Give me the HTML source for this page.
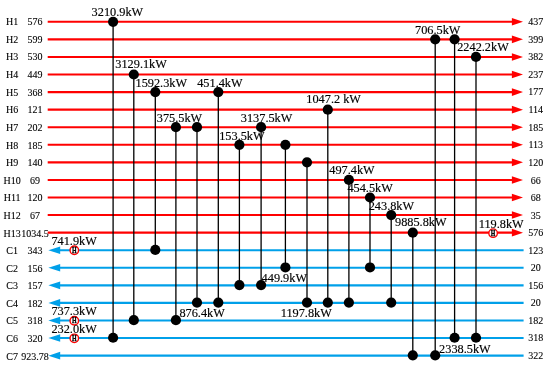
<!DOCTYPE html>
<html><head><meta charset="utf-8"><title>HEN</title>
<style>html,body{margin:0;padding:0;background:#fff}svg text{font-family:"Liberation Serif",serif}</style></head>
<body>
<svg width="550" height="368" viewBox="0 0 550 368" style="display:block">
<rect width="550" height="368" fill="#fff"/>
<g stroke="#ff0000" stroke-width="2.1" fill="#ff0000">
<line x1="47.7" y1="21.80" x2="513" y2="21.80"/>
<polygon stroke="none" points="523,21.80 511.9,18.00 511.9,25.60"/>
<line x1="47.7" y1="39.37" x2="513" y2="39.37"/>
<polygon stroke="none" points="523,39.37 511.9,35.57 511.9,43.17"/>
<line x1="47.7" y1="56.94" x2="513" y2="56.94"/>
<polygon stroke="none" points="523,56.94 511.9,53.14 511.9,60.74"/>
<line x1="47.7" y1="74.51" x2="513" y2="74.51"/>
<polygon stroke="none" points="523,74.51 511.9,70.71 511.9,78.31"/>
<line x1="47.7" y1="92.08" x2="513" y2="92.08"/>
<polygon stroke="none" points="523,92.08 511.9,88.28 511.9,95.88"/>
<line x1="47.7" y1="109.65" x2="513" y2="109.65"/>
<polygon stroke="none" points="523,109.65 511.9,105.85 511.9,113.45"/>
<line x1="47.7" y1="127.22" x2="513" y2="127.22"/>
<polygon stroke="none" points="523,127.22 511.9,123.42 511.9,131.02"/>
<line x1="47.7" y1="144.79" x2="513" y2="144.79"/>
<polygon stroke="none" points="523,144.79 511.9,140.99 511.9,148.59"/>
<line x1="47.7" y1="162.36" x2="513" y2="162.36"/>
<polygon stroke="none" points="523,162.36 511.9,158.56 511.9,166.16"/>
<line x1="47.7" y1="179.93" x2="513" y2="179.93"/>
<polygon stroke="none" points="523,179.93 511.9,176.13 511.9,183.73"/>
<line x1="47.7" y1="197.50" x2="513" y2="197.50"/>
<polygon stroke="none" points="523,197.50 511.9,193.70 511.9,201.30"/>
<line x1="47.7" y1="215.07" x2="513" y2="215.07"/>
<polygon stroke="none" points="523,215.07 511.9,211.27 511.9,218.87"/>
<line x1="47.7" y1="232.64" x2="513" y2="232.64"/>
<polygon stroke="none" points="523,232.64 511.9,228.84 511.9,236.44"/>
</g>
<g stroke="#00a0e9" stroke-width="2.1" fill="#00a0e9">
<line x1="58" y1="250.21" x2="523.6" y2="250.21"/>
<polygon stroke="none" points="48.4,250.21 60.2,246.41 60.2,254.01"/>
<line x1="58" y1="267.78" x2="523.6" y2="267.78"/>
<polygon stroke="none" points="48.4,267.78 60.2,263.98 60.2,271.58"/>
<line x1="58" y1="285.35" x2="523.6" y2="285.35"/>
<polygon stroke="none" points="48.4,285.35 60.2,281.55 60.2,289.15"/>
<line x1="58" y1="302.92" x2="523.6" y2="302.92"/>
<polygon stroke="none" points="48.4,302.92 60.2,299.12 60.2,306.72"/>
<line x1="58" y1="320.49" x2="523.6" y2="320.49"/>
<polygon stroke="none" points="48.4,320.49 60.2,316.69 60.2,324.29"/>
<line x1="58" y1="338.06" x2="523.6" y2="338.06"/>
<polygon stroke="none" points="48.4,338.06 60.2,334.26 60.2,341.86"/>
<line x1="58" y1="355.63" x2="523.6" y2="355.63"/>
<polygon stroke="none" points="48.4,355.63 60.2,351.83 60.2,359.43"/>
</g>
<g stroke="#000" stroke-width="1.3" fill="#000">
<line x1="113.1" y1="21.80" x2="113.1" y2="338.06"/>
<line x1="133.8" y1="74.51" x2="133.8" y2="320.49"/>
<line x1="155.3" y1="92.08" x2="155.3" y2="250.21"/>
<line x1="175.9" y1="127.22" x2="175.9" y2="320.49"/>
<line x1="197" y1="127.22" x2="197" y2="302.92"/>
<line x1="218.3" y1="92.08" x2="218.3" y2="302.92"/>
<line x1="239.4" y1="144.79" x2="239.4" y2="285.35"/>
<line x1="261.1" y1="127.22" x2="261.1" y2="285.35"/>
<line x1="285.4" y1="144.79" x2="285.4" y2="267.78"/>
<line x1="307" y1="162.36" x2="307" y2="302.92"/>
<line x1="327.8" y1="109.65" x2="327.8" y2="302.92"/>
<line x1="348.9" y1="179.93" x2="348.9" y2="302.92"/>
<line x1="370" y1="197.50" x2="370" y2="267.78"/>
<line x1="391.2" y1="215.07" x2="391.2" y2="302.92"/>
<line x1="412.8" y1="232.64" x2="412.8" y2="355.63"/>
<line x1="435.2" y1="39.37" x2="435.2" y2="355.63"/>
<line x1="454.6" y1="39.37" x2="454.6" y2="338.06"/>
<line x1="476" y1="56.94" x2="476" y2="338.06"/>
</g>
<g fill="#000">
<circle cx="113.1" cy="21.80" r="5.1"/><circle cx="113.1" cy="337.76" r="5.1"/>
<circle cx="133.8" cy="74.51" r="5.1"/><circle cx="133.8" cy="320.19" r="5.1"/>
<circle cx="155.3" cy="92.08" r="5.1"/><circle cx="155.3" cy="249.91" r="5.1"/>
<circle cx="175.9" cy="127.22" r="5.1"/><circle cx="175.9" cy="320.19" r="5.1"/>
<circle cx="197" cy="127.22" r="5.1"/><circle cx="197" cy="302.62" r="5.1"/>
<circle cx="218.3" cy="92.08" r="5.1"/><circle cx="218.3" cy="302.62" r="5.1"/>
<circle cx="239.4" cy="144.79" r="5.1"/><circle cx="239.4" cy="285.05" r="5.1"/>
<circle cx="261.1" cy="127.22" r="5.1"/><circle cx="261.1" cy="285.05" r="5.1"/>
<circle cx="285.4" cy="144.79" r="5.1"/><circle cx="285.4" cy="267.48" r="5.1"/>
<circle cx="307" cy="162.36" r="5.1"/><circle cx="307" cy="302.62" r="5.1"/>
<circle cx="327.8" cy="109.65" r="5.1"/><circle cx="327.8" cy="302.62" r="5.1"/>
<circle cx="348.9" cy="179.93" r="5.1"/><circle cx="348.9" cy="302.62" r="5.1"/>
<circle cx="370" cy="197.50" r="5.1"/><circle cx="370" cy="267.48" r="5.1"/>
<circle cx="391.2" cy="215.07" r="5.1"/><circle cx="391.2" cy="302.62" r="5.1"/>
<circle cx="412.8" cy="232.64" r="5.1"/><circle cx="412.8" cy="355.33" r="5.1"/>
<circle cx="435.2" cy="39.37" r="5.1"/><circle cx="435.2" cy="355.33" r="5.1"/>
<circle cx="454.6" cy="39.37" r="5.1"/><circle cx="454.6" cy="337.76" r="5.1"/>
<circle cx="476" cy="56.94" r="5.1"/><circle cx="476" cy="337.76" r="5.1"/>
</g>
<circle cx="74.3" cy="250.21" r="4.25" fill="#fff" stroke="#ff0000" stroke-width="1.4"/>
<text transform="translate(74.3 252.66) scale(0.78 1)" font-size="7.6" font-weight="bold" text-anchor="middle" fill="#000" stroke="#000" stroke-width="0.3">H</text>
<circle cx="74.3" cy="320.79" r="4.25" fill="#fff" stroke="#ff0000" stroke-width="1.4"/>
<text transform="translate(74.3 323.24) scale(0.78 1)" font-size="7.6" font-weight="bold" text-anchor="middle" fill="#000" stroke="#000" stroke-width="0.3">H</text>
<circle cx="74.3" cy="338.36" r="4.25" fill="#fff" stroke="#ff0000" stroke-width="1.4"/>
<text transform="translate(74.3 340.81) scale(0.78 1)" font-size="7.6" font-weight="bold" text-anchor="middle" fill="#000" stroke="#000" stroke-width="0.3">H</text>
<circle cx="493.1" cy="233.14" r="4.25" fill="#fff" stroke="#ff0000" stroke-width="1.4"/>
<text transform="translate(493.1 235.59) scale(0.78 1)" font-size="7.6" font-weight="bold" text-anchor="middle" fill="#000" stroke="#000" stroke-width="0.3">H</text>
<g font-size="10" fill="#000" text-anchor="middle" stroke="#000" stroke-width="0.1">
<text x="12.2" y="25.20">H1</text><text x="35" y="25.20">576</text><text x="535.8" y="25.20">437</text>
<text x="12.2" y="42.84">H2</text><text x="35" y="42.84">599</text><text x="535.8" y="42.77">399</text>
<text x="12.2" y="60.48">H3</text><text x="35" y="60.48">530</text><text x="535.8" y="60.34">382</text>
<text x="12.2" y="78.12">H4</text><text x="35" y="78.12">449</text><text x="535.8" y="77.91">237</text>
<text x="12.2" y="95.76">H5</text><text x="35" y="95.76">368</text><text x="535.8" y="95.48">177</text>
<text x="12.2" y="113.40">H6</text><text x="35" y="113.40">121</text><text x="535.8" y="113.05">114</text>
<text x="12.2" y="131.04">H7</text><text x="35" y="131.04">202</text><text x="535.8" y="130.71">185</text>
<text x="12.2" y="148.68">H8</text><text x="35" y="148.68">185</text><text x="535.8" y="148.37">113</text>
<text x="12.2" y="166.26">H9</text><text x="35" y="166.26">140</text><text x="535.8" y="166.02">120</text>
<text x="12.2" y="183.83">H10</text><text x="35" y="183.83">69</text><text x="535.8" y="183.68">66</text>
<text x="12.2" y="201.40">H11</text><text x="35" y="201.40">120</text><text x="535.8" y="201.16">68</text>
<text x="12.2" y="218.97">H12</text><text x="35" y="218.97">67</text><text x="535.8" y="218.65">35</text>
<text x="12.2" y="236.54">H13</text><text x="35" y="236.54">1034.5</text><text x="535.8" y="236.13">576</text>
<text x="12.2" y="254.11">C1</text><text x="35" y="254.11">343</text><text x="535.8" y="253.51">123</text>
<text x="12.2" y="271.68">C2</text><text x="35" y="271.68">156</text><text x="535.8" y="271.08">20</text>
<text x="12.2" y="289.25">C3</text><text x="35" y="289.25">157</text><text x="535.8" y="288.65">156</text>
<text x="12.2" y="306.82">C4</text><text x="35" y="306.82">182</text><text x="535.8" y="306.22">20</text>
<text x="12.2" y="324.39">C5</text><text x="35" y="324.39">318</text><text x="535.8" y="323.79">182</text>
<text x="12.2" y="341.96">C6</text><text x="35" y="341.96">320</text><text x="535.8" y="341.36">318</text>
<text x="12.2" y="359.53">C7</text><text x="35" y="359.53">923.78</text><text x="535.8" y="358.93">322</text>
</g>
<g font-size="12.3" fill="#000" stroke="#000" stroke-width="0.15">
<text x="91.6" y="16.3">3210.9kW</text>
<text x="115.3" y="67.7">3129.1kW</text>
<text x="135.5" y="87.1">1592.3kW</text>
<text x="197.2" y="87.1">451.4kW</text>
<text x="156.8" y="121.5">375.5kW</text>
<text x="240.8" y="121.8">3137.5kW</text>
<text x="219.2" y="139.8">153.5kW</text>
<text x="306.3" y="102.6">1047.2 kW</text>
<text x="329.3" y="174.3">497.4kW</text>
<text x="347.4" y="192.1">454.5kW</text>
<text x="368.7" y="210.2">243.8kW</text>
<text x="395" y="226.4">9885.8kW</text>
<text x="478.7" y="227.7">119.8kW</text>
<text x="415" y="34.4">706.5kW</text>
<text x="457.2" y="51.4">2242.2kW</text>
<text x="51.4" y="244.5">741.9kW</text>
<text x="51.4" y="314.9">737.3kW</text>
<text x="51.4" y="333.2">232.0kW</text>
<text x="179.4" y="317">876.4kW</text>
<text x="261.6" y="281.9">449.9kW</text>
<text x="280.7" y="317.3">1197.8kW</text>
<text x="439.1" y="353">2338.5kW</text>
</g>
</svg>
</body></html>
